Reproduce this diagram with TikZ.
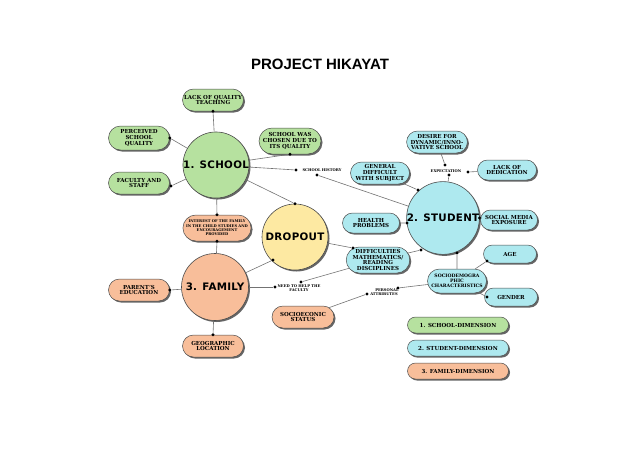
\documentclass[tikz,border=0pt]{standalone}
\usepackage{fontspec}
\setmainfont{DejaVu Serif}
\newfontfamily\titlefont{Liberation Sans}
\newfontfamily\heavyfont{DejaVu Sans}[LetterSpace=3]
\usetikzlibrary{shapes.misc, shadows}

\definecolor{schoolgreen}{HTML}{B6E19F}
\definecolor{studentcyan}{HTML}{AEE9EF}
\definecolor{familypeach}{HTML}{F8BE9A}
\definecolor{dropyellow}{HTML}{FDE9A2}

\newcommand{\boxfont}{\bfseries\fontsize{5.5}{5.9}\selectfont}
\newcommand{\smallboxfont}{\bfseries\fontsize{4.6}{5.2}\selectfont}
\newcommand{\tinyfont}{\bfseries\fontsize{3.7}{4.3}\selectfont}

\tikzset{
  shade box/.style={drop shadow={shadow xshift=1.5pt, shadow yshift=-1.5pt, fill=black, opacity=0.6}},
  pill/.style={rounded rectangle, draw=black!70, line width=0.5pt, align=center,
    inner sep=0.5pt, minimum width=62pt, minimum height=22pt, font=\boxfont, shade box},
  bubble/.style={circle, draw=black!70, line width=0.6pt, inner sep=0pt, minimum size=66pt,
    font=\heavyfont\bfseries\fontsize{10.3}{12}\selectfont, shade box},
  school/.style={fill=schoolgreen},
  student/.style={fill=studentcyan},
  family/.style={fill=familypeach},
  note/.style={font=\tinyfont, align=center, inner sep=0.5pt},
  dot/.style={circle, fill=black, inner sep=0pt, minimum size=3.4pt},
  link/.style={draw=black!55, line width=0.6pt},
}

\begin{document}
\begin{tikzpicture}[x=1pt, y=-1pt]
\useasboundingbox (0,0) rectangle (640,453);

\node[font=\titlefont\bfseries\fontsize{15}{18}\selectfont] (title) at (320,64) {PROJECT HIKAYAT};

% the four dimensions
\node[bubble, school] (schoolc) at (216,165) {1. SCHOOL};
\node[bubble, fill=dropyellow] (dropout) at (295,237) {DROPOUT};
\node[bubble, family, minimum size=67pt] (familyc) at (215,287) {3. FAMILY};
\node[bubble, student, minimum size=70pt] (studentc) at (443,218) {2. STUDENT};

% school boxes
\node[pill, school] (teach) at (213,100) {LACK OF QUALITY\\TEACHING};
\node[pill, school, minimum height=24pt] (perceived) at (139,138) {PERCEIVED\\SCHOOL\\QUALITY};
\node[pill, school] (faculty) at (139,183) {FACULTY AND\\STAFF};
\node[pill, school, minimum width=63pt, minimum height=26pt] (chosen) at (290,141) {SCHOOL WAS\\CHOSEN DUE TO\\ITS QUALITY};

% student boxes
\node[pill, student, minimum width=60pt] (general) at (380,173) {GENERAL\\DIFFICULT\\WITH SUBJECT};
\node[pill, student, minimum width=58pt] (desire) at (437,142) {DESIRE FOR\\DYNAMIC/INNO-\\VATIVE SCHOOL};
\node[pill, student, minimum width=60pt, minimum height=20pt] (dedication) at (507,170) {LACK OF\\DEDICATION};
\node[pill, student, minimum width=58pt, minimum height=20pt] (social) at (509,220) {SOCIAL MEDIA\\EXPOSURE};
\node[pill, student, minimum width=58pt, minimum height=20pt] (health) at (371,223) {HEALTH\\PROBLEMS};
\node[pill, student, minimum width=58pt, minimum height=26pt] (difficult) at (378,260) {DIFFICULTIES\\MATHEMATICS/\\READING\\DISCIPLINES};
\node[pill, student, minimum width=60pt, minimum height=24pt, font=\smallboxfont] (socio) at (457,281) {SOCIODEMOGRA\\PHIC\\CHARACTERISTICS};
\node[pill, student, minimum width=54pt, minimum height=18pt] (age) at (510,254) {AGE};
\node[pill, student, minimum width=54pt, minimum height=18pt] (gender) at (511,297) {GENDER};

% family boxes
\node[pill, family, minimum width=63pt] (socioecon) at (303,317) {SOCIOECONIC\\STATUS};
\node[pill, family] (parents) at (139,290) {PARENT'S\\EDUCATION};
\node[pill, family] (geo) at (213,346) {GEOGRAPHIC\\LOCATION};
\node[pill, family, minimum height=26pt, font=\tinyfont] (interest) at (217,228) {INTEREST OF THE FAMILY\\IN THE CHILD STUDIES AND\\ENCOURAGEMENT\\PROVIDED};

% small notes
\node[note] (history) at (322,170) {SCHOOL HISTORY};
\node[note] (expect) at (446,171) {EXPECTATION};
\node[note] (needhelp) at (299,288) {NEED TO HELP THE\\FACULTY};
\node[note] (personal) at (384,292) {\hspace*{6pt}PERSONAL\\ATTRIBUTES};

% legend
\node[pill, school, minimum width=102pt, minimum height=16pt] (leg1) at (458,325) {1. SCHOOL-DIMENSION};
\node[pill, student, minimum width=102pt, minimum height=16pt] (leg2) at (458,348) {2. STUDENT-DIMENSION};
\node[pill, family, minimum width=102pt, minimum height=16pt] (leg3) at (458,371) {3. FAMILY-DIMENSION};

% dots
\node[dot] (dTeach) at (teach.south) {};
\node[dot] (dPerc) at (perceived.east) {};
\node[dot] (dFac) at (171,186) {};
\node[dot] (dChosen) at (chosen.south) {};
\node[dot] (dHistA) at (296,170) {};
\node[dot] (dHistB) at (317,175) {};
\node[dot] (dDrop) at (dropout.north) {};
\node[dot] (dIntTop) at (interest.north) {};
\node[dot] (dIntBot) at (interest.south) {};
\node[dot] (dGen) at (418,190) {};
\node[dot] (dDesire) at (445,165) {};
\node[dot] (dExpB) at (449,175) {};
\node[dot] (dExpR) at (468,172) {};
\node[dot] (dSocial) at (studentc.east) {};
\node[dot] (dHealth) at (407,223) {};
\node[dot] (dDiffL) at (353,248) {};
\node[dot] (dDiffR) at (421,250) {};
\node[dot] (dHelpT) at (301,282) {};
\node[dot] (dHelpL) at (275,287) {};
\node[dot] (dFamDrop) at (273,260) {};
\node[dot] (dParents) at (parents.east) {};
\node[dot] (dGeo) at (geo.north) {};
\node[dot] (dPersL) at (367,294) {};
\node[dot] (dPersR) at (398,288) {};
\node[dot] (dStuBot) at (457,253) {};
\node[dot] (dAge) at (487,261) {};
\node[dot] (dGender) at (487,297) {};

% connectors
\path[link]
  (schoolc) edge (dTeach)
  (schoolc) edge (dPerc)
  (schoolc) edge (dFac)
  (schoolc) edge (dChosen)
  (schoolc) edge (dHistA)
  (schoolc) edge (dDrop)
  (schoolc) edge (dIntTop)
  (dIntBot) edge (familyc)
  (dHistB) edge (studentc)
  (general) edge (dGen)
  (desire) edge (dDesire)
  (dExpB) edge (studentc)
  (dExpR) edge (dedication)
  (dSocial) edge (social)
  (health) edge (dHealth)
  (dropout) edge (dDiffL)
  (difficult) edge (dDiffR)
  (difficult) edge (dHelpT)
  (familyc) edge (dHelpL)
  (familyc) edge (dFamDrop)
  (familyc) edge (dParents)
  (familyc) edge (dGeo)
  (socioecon) edge (dPersL)
  (dPersR) edge (socio)
  (socio) edge (dStuBot)
  (socio) edge (dAge)
  (socio) edge (dGender);
\end{tikzpicture}
\end{document}
